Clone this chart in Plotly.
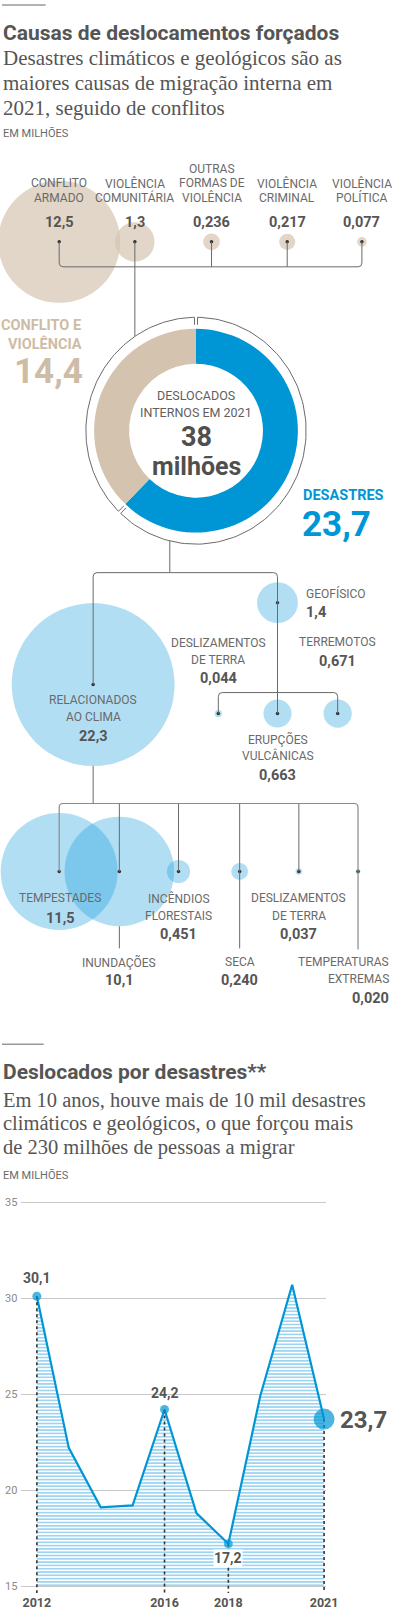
import math
import plotly.graph_objects as go

W, H = 404, 1624

# ---------------- DATA ----------------
conflict_names = [["CONFLITO", "ARMADO"], ["VIOLÊNCIA", "COMUNITÁRIA"],
                  ["OUTRAS", "FORMAS DE", "VIOLÊNCIA"], ["VIOLÊNCIA", "CRIMINAL"],
                  ["VIOLÊNCIA", "POLÍTICA"]]
conflict_values = [12.5, 1.3, 0.236, 0.217, 0.077]
conflict_labels = ["12,5", "1,3", "0,236", "0,217", "0,077"]

total_names = [["DESASTRES"], ["CONFLITO E", "VIOLÊNCIA"]]
total_values = [23.7, 14.4]
total_labels = ["23,7", "14,4"]
overall_lines = ["DESLOCADOS", "INTERNOS EM 2021"]
overall_label = ["38", "milhões"]

group_names = [["RELACIONADOS", "AO CLIMA"], ["GEOFÍSICO"]]
group_values = [22.3, 1.4]
group_labels = ["22,3", "1,4"]

geo_names = [["DESLIZAMENTOS", "DE TERRA"], ["ERUPÇÕES", "VULCÂNICAS"], ["TERREMOTOS"]]
geo_values = [0.044, 0.663, 0.671]
geo_labels = ["0,044", "0,663", "0,671"]

climate_names = [["TEMPESTADES"], ["INUNDAÇÕES"], ["INCÊNDIOS", "FLORESTAIS"], ["SECA"],
                 ["DESLIZAMENTOS", "DE TERRA"], ["TEMPERATURAS", "EXTREMAS"]]
climate_values = [11.5, 10.1, 0.451, 0.240, 0.037, 0.020]
climate_labels = ["11,5", "10,1", "0,451", "0,240", "0,037", "0,020"]

years = list(range(2012, 2022))
displaced = [30.1, 22.2, 19.1, 19.2, 24.2, 18.8, 17.2, 24.9, 30.7, 23.7]
highlight_years = [2012, 2016, 2018, 2021]
highlight_labels = ["30,1", "24,2", "17,2", "23,7"]
y_ticks = [15, 20, 25, 30, 35]

# ---------------- STYLE / LAYOUT ----------------
SANS = "Roboto"
SERIF = "Liberation Serif"
BEIGE = "#d4c4af"
BEIGE_TXT = "#cdbca6"
BLUE = "#0096d6"
LIGHT = "rgba(0,145,218,0.43)"
LINEC = "#6a6a6a"
TXT = "#6a6a6a"
VAL = "#555555"
TITLE = "#555555"

K = 34.5  # bubble diameter (px) per sqrt(million)


def diam(v):
    return K * math.sqrt(v)


conflict_x = [61, 139, 218, 296, 373]
conflict_y = 241
donut_cx, donut_cy, donut_r, hole = 202, 430, 105, 0.657
group_xy = [(96, 684), (286, 602)]
geo_x = [225, 286, 348]
geo_y = 713
climate_x = [61, 123, 184, 247, 308, 369]
climate_y = 871

fig = go.Figure()
ann = []
shapes = []


def txt(x, y, s, size=12, color=TXT, bold=False, anchor="center", family=SANS,
        xref="x", yref="y", xshift=0, yshift=0, bg=None):
    d = dict(x=x, y=y, xref=xref, yref=yref,
             text=f"<b>{s}</b>" if bold else s, showarrow=False,
             xanchor=anchor, yanchor="middle", xshift=xshift, yshift=yshift,
             borderpad=0,
             font=dict(family=family, size=size, color=color))
    if bg:
        d["bgcolor"] = bg
    ann.append(d)


def path(d, color=LINEC, width=1):
    shapes.append(dict(type="path", path=d, xref="x", yref="y", layer="above",
                       line=dict(color=color, width=width)))


def bubbles(xs, ys, vals, color):
    fig.add_trace(go.Scatter(x=xs, y=ys, mode="markers", hoverinfo="skip",
                             showlegend=False, cliponaxis=False,
                             marker=dict(size=[diam(v) for v in vals], sizemode="diameter",
                                         color=color, line=dict(width=0))))


def dots(xs, ys):
    fig.add_trace(go.Scatter(x=xs, y=ys, mode="markers", hoverinfo="skip",
                             showlegend=False, cliponaxis=False,
                             marker=dict(size=3.5, color="#333333", line=dict(width=0))))


# ---------- bubbles ----------
bubbles(conflict_x, [conflict_y] * 5, conflict_values, BEIGE)
bubbles([p[0] for p in group_xy], [p[1] for p in group_xy], group_values, LIGHT)
bubbles(geo_x, [geo_y] * 3, geo_values, LIGHT)
bubbles(climate_x, [climate_y] * 6, climate_values, LIGHT)

# ---------- donut ----------
fig.add_trace(go.Pie(values=total_values, sort=False, direction="clockwise", rotation=0,
                     hole=hole, textinfo="none", hoverinfo="skip", showlegend=False,
                     marker=dict(colors=[BLUE, BEIGE], line=dict(width=0)),
                     domain=dict(x=[(donut_cx - donut_r) / W, (donut_cx + donut_r) / W],
                                 y=[(H - donut_cy - donut_r) / H, (H - donut_cy + donut_r) / H])))

# outer bracket arcs following each slice
tot = sum(total_values)
start = 0.0
r_in, r_out, gap = donut_r + 1, donut_r + 8.5, 0.8


def pt(rr, a):
    return donut_cx + rr * math.sin(math.radians(a)), donut_cy - rr * math.cos(math.radians(a))


for v in total_values:
    a0 = start + gap
    a1 = start + v / tot * 360 - gap
    start += v / tot * 360
    xs, ys = [], []
    p = pt(r_in, a0); xs.append(p[0]); ys.append(p[1])
    n = 120
    for i in range(n + 1):
        a = a0 + (a1 - a0) * i / n
        p = pt(r_out, a); xs.append(p[0]); ys.append(p[1])
    p = pt(r_in, a1); xs.append(p[0]); ys.append(p[1])
    fig.add_trace(go.Scatter(x=xs, y=ys, mode="lines", hoverinfo="skip", showlegend=False,
                             line=dict(color=LINEC, width=1)))

# ---------- dots at bubble centres ----------
dots(conflict_x, [conflict_y] * 5)
dots([p[0] for p in group_xy], [p[1] for p in group_xy])
dots(geo_x, [geo_y] * 3)
dots(climate_x, [climate_y] * 6)

# ---------- connectors ----------
r = 4
yb = 266
path(f"M {conflict_x[0]},{conflict_y} L {conflict_x[0]},{yb-r} Q {conflict_x[0]},{yb} {conflict_x[0]+r},{yb} "
     f"L {conflict_x[-1]-r},{yb} Q {conflict_x[-1]},{yb} {conflict_x[-1]},{yb-r} L {conflict_x[-1]},{conflict_y}")
for cx in conflict_x[2:4]:
    path(f"M {cx},{conflict_y} L {cx},{yb}")
ya = donut_cy - math.sqrt(r_out ** 2 - (conflict_x[1] - donut_cx) ** 2)
path(f"M {conflict_x[1]},{conflict_y} L {conflict_x[1]},{ya}")

xd = 175
yd = donut_cy + math.sqrt(r_out ** 2 - (xd - donut_cx) ** 2)
yb2 = 572
path(f"M {xd},{yd} L {xd},{yb2}")
gx0, gy0 = group_xy[0]
gx1, gy1 = group_xy[1]
path(f"M {gx0},{gy0} L {gx0},{yb2+r} Q {gx0},{yb2} {gx0+r},{yb2} L {gx1-r},{yb2} "
     f"Q {gx1},{yb2} {gx1},{yb2+r} L {gx1},{geo_y}")
yb3 = 692
path(f"M {geo_x[0]},{geo_y} L {geo_x[0]},{yb3+r} Q {geo_x[0]},{yb3} {geo_x[0]+r},{yb3} "
     f"L {geo_x[2]-r},{yb3} Q {geo_x[2]},{yb3} {geo_x[2]},{yb3+r} L {geo_x[2]},{geo_y}")
yb4 = 803
path(f"M {gx0},{gy0 + diam(group_values[0]) / 2} L {gx0},{yb4}")
path(f"M {climate_x[0]},{climate_y} L {climate_x[0]},{yb4+r} Q {climate_x[0]},{yb4} {climate_x[0]+r},{yb4} "
     f"L {climate_x[-1]-r},{yb4} Q {climate_x[-1]},{yb4} {climate_x[-1]},{yb4+r} L {climate_x[-1]},949",
     color="#8a8a8a", width=1.2)
for i in [1, 2, 4]:
    path(f"M {climate_x[i]},{yb4} L {climate_x[i]},{climate_y}")
path(f"M {climate_x[1]},{climate_y + diam(climate_values[1]) / 2} L {climate_x[1]},948")
path(f"M {climate_x[3]},{yb4} L {climate_x[3]},948")

# ---------- texts: header ----------
shapes.append(dict(type="line", xref="x", yref="y", x0=2, x1=47, y0=4, y1=4,
                   line=dict(color="#999999", width=1.5)))
txt(2, 32, "Causas de deslocamentos forçados", size=21, color=TITLE, bold=True, anchor="left")
for i, s in enumerate(["Desastres climáticos e geológicos são as",
                       "maiores causas de migração interna em",
                       "2021, seguido de conflitos"]):
    txt(2, [57, 82, 107][i], s, size=21, color="#555555", anchor="left", family=SERIF)
txt(2, 133, "EM MILHÕES", size=11, color="#6a6a6a", anchor="left")

for cx, names, lab in zip(conflict_x, conflict_names, conflict_labels):
    n = len(names)
    for j, s in enumerate(names):
        txt(cx, 197 - (n - 1 - j) * 14.5, s, size=12)
    txt(cx, 222, lab, size=14.5, color=VAL, bold=True)

txt(85, 325, total_names[1][0], size=14.5, color=BEIGE_TXT, bold=True, anchor="right")
txt(86, 343, total_names[1][1], size=14.5, color=BEIGE_TXT, bold=True, anchor="right")
txt(87, 371, total_labels[1], size=35, color=BEIGE_TXT, bold=True, anchor="right")
txt(311, 495, total_names[0][0], size=14.5, color=BLUE, bold=True, anchor="left")
txt(310, 524, total_labels[0], size=35, color=BLUE, bold=True, anchor="left")

txt(donut_cx, 395, overall_lines[0], size=12.5, color="#5f5f5f")
txt(donut_cx, 412, overall_lines[1], size=12.5, color="#5f5f5f")
txt(donut_cx, 436, overall_label[0], size=27, color="#4f4f4f", bold=True)
txt(donut_cx, 466, overall_label[1], size=25, color="#4f4f4f", bold=True)

txt(gx0, 699, group_names[0][0], size=12)
txt(gx0, 716, group_names[0][1], size=12)
txt(gx0, 736, group_labels[0], size=14.5, color=VAL, bold=True)
txt(314, 593, group_names[1][0], size=12, anchor="left")
txt(314, 612, group_labels[1], size=14.5, color=VAL, bold=True, anchor="left")

txt(geo_x[0], 642, geo_names[0][0], size=12)
txt(geo_x[0], 659, geo_names[0][1], size=12)
txt(geo_x[0], 678, geo_labels[0], size=14.5, color=VAL, bold=True)
txt(geo_x[1], 738, geo_names[1][0], size=12)
txt(geo_x[1], 755, geo_names[1][1], size=12)
txt(geo_x[1], 775, geo_labels[1], size=14.5, color=VAL, bold=True)
txt(geo_x[2], 641, geo_names[2][0], size=12)
txt(geo_x[2], 661, geo_labels[2], size=14.5, color=VAL, bold=True)

txt(climate_x[0] + 1, 898, climate_names[0][0], size=12)
txt(climate_x[0] + 1, 918, climate_labels[0], size=14.5, color=VAL, bold=True)
for i in [2, 4]:
    txt(climate_x[i], 898, climate_names[i][0], size=12)
    txt(climate_x[i], 915.5, climate_names[i][1], size=12)
    txt(climate_x[i], 934, climate_labels[i], size=14.5, color=VAL, bold=True)
for i in [1, 3]:
    txt(climate_x[i], 962, climate_names[i][0], size=12)
    txt(climate_x[i], 980, climate_labels[i], size=14.5, color=VAL, bold=True)
txt(402, 962, climate_names[5][0], size=12, anchor="right")
txt(402, 979, climate_names[5][1], size=12, anchor="right")
txt(402, 998, climate_labels[5], size=14.5, color=VAL, bold=True, anchor="right")

# ---------- second section header ----------
shapes.append(dict(type="line", xref="x", yref="y", x0=2, x1=45, y0=1044, y1=1044,
                   line=dict(color="#999999", width=1.5)))
txt(2, 1072, "Deslocados por desastres**", size=21, color=TITLE, bold=True, anchor="left")
for i, s in enumerate(["Em 10 anos, houve mais de 10 mil desastres",
                       "climáticos e geológicos, o que forçou mais",
                       "de 230 milhões de pessoas a migrar"]):
    txt(2, [1100, 1123.5, 1147][i], s, size=20.5, color="#555555", anchor="left", family=SERIF)
txt(2, 1175, "EM MILHÕES", size=11, color="#6a6a6a", anchor="left")

# ---------- line chart ----------
ppy = (334 - 38) / 9.0
ppu = (1586 - 1202) / 20.0
x2range = [2012 - (38 - 22) / ppy, 2021 + (336 - 334) / ppy]
ymin = 15 - 7 / ppu
ymax = 35.25
y2top = 1202 - (ymax - 35) * ppu

fig.add_trace(go.Scatter(x=years, y=[y_ticks[0]] * len(years), mode="lines", xaxis="x2", yaxis="y2",
                         line=dict(width=0, color="rgba(0,0,0,0)"), hoverinfo="skip", showlegend=False))
fig.add_trace(go.Scatter(x=years, y=displaced, mode="lines", xaxis="x2", yaxis="y2",
                         fill="tonexty", fillcolor="white",
                         fillpattern=dict(shape="-", size=3.3, solidity=0.3, fgcolor="#5ab8e8",
                                          bgcolor="white", fillmode="replace"),
                         line=dict(color=BLUE, width=2.2), hoverinfo="skip", showlegend=False))
for yr in highlight_years:
    v = displaced[years.index(yr)]
    fig.add_trace(go.Scatter(x=[yr, yr], y=[v, ymin], mode="lines", xaxis="x2", yaxis="y2",
                             line=dict(color="#333333", width=1.6, dash="dot"),
                             hoverinfo="skip", showlegend=False))
hv = [displaced[years.index(yr)] for yr in highlight_years]
fig.add_trace(go.Scatter(x=highlight_years, y=hv, mode="markers", xaxis="x2", yaxis="y2",
                         cliponaxis=False,
                         marker=dict(size=[9, 9, 9, 21], color=BLUE, line=dict(width=0)),
                         hoverinfo="skip", showlegend=False))
shifts = [18, 16, -14, 0]
for k, (yr, v, lab) in enumerate(zip(highlight_years, hv, highlight_labels)):
    if k < 3:
        txt(yr, v, lab, size=14, color=VAL, bold=True, xref="x2", yref="y2", yshift=shifts[k],
            bg="white" if k == 2 else None)
    else:
        txt(yr, v, lab, size=24, color=VAL, bold=True, anchor="left", xref="x2", yref="y2",
            xshift=15, yshift=-1)

fig.update_layout(
    width=W, height=H, margin=dict(l=0, r=0, t=0, b=0),
    paper_bgcolor="white", plot_bgcolor="rgba(0,0,0,0)",
    xaxis=dict(domain=[0, 1], range=[0, W], visible=False, fixedrange=True),
    yaxis=dict(domain=[0, 1], range=[H, 0], visible=False, fixedrange=True),
    xaxis2=dict(domain=[22 / W, 336 / W], range=x2range, anchor="y2",
                tickvals=highlight_years, ticktext=[f"<b>{y}</b>" for y in highlight_years],
                tickfont=dict(family=SANS, size=12.5, color=VAL),
                showgrid=False, zeroline=False, showline=False, ticks=""),
    yaxis2=dict(domain=[(H - 1593) / H, (H - y2top) / H], range=[ymin, ymax], anchor="x2",
                tickvals=y_ticks, ticktext=[str(t) for t in y_ticks],
                tickfont=dict(family=SANS, size=11, color="#8a8a8a"),
                ticklabelstandoff=3,
                showgrid=True, gridcolor="#c8c8c8", gridwidth=1,
                zeroline=False, showline=False, ticks=""),
    annotations=ann, shapes=shapes, showlegend=False,
)

fig.write_html("out.html")
